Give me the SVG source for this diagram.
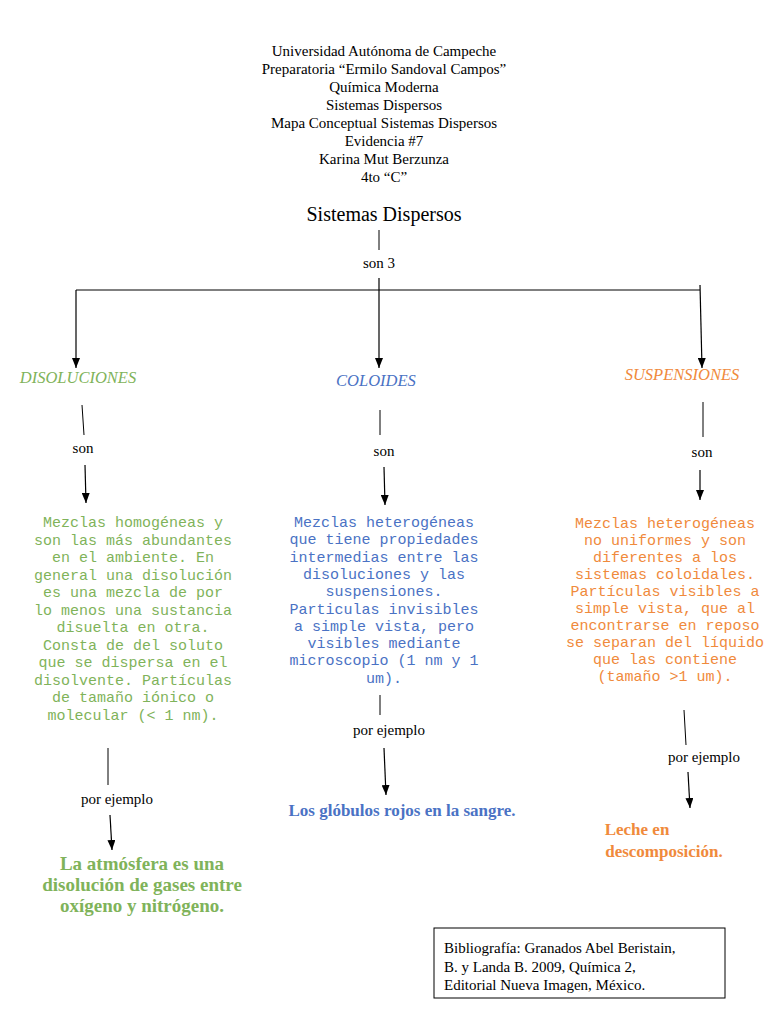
<svg xmlns="http://www.w3.org/2000/svg" width="768" height="1024" viewBox="0 0 768 1024">
<defs><marker id="a" markerWidth="10" markerHeight="8" refX="10" refY="4" orient="auto" markerUnits="userSpaceOnUse" viewBox="0 0 10 8"><path d="M0,0 L10,4 L0,8 Z" fill="#000"/></marker></defs>
<style>
.s{font-family:"Liberation Serif",serif;font-size:15px;fill:#000;text-anchor:middle}
.m{font-family:"Liberation Mono",monospace;font-size:15px;text-anchor:middle}
.l{stroke:#000;stroke-width:1;fill:none}
.ar{stroke:#000;stroke-width:1.2;fill:none}
.g{fill:#7fb35a}.b{fill:#4a72c4}.o{fill:#f08a3c}
.i{font-family:"Liberation Serif",serif;font-size:16.5px;font-style:italic;text-anchor:middle}
.bd{font-family:"Liberation Serif",serif;font-size:17px;font-weight:bold;text-anchor:middle}
</style>
<rect width="768" height="1024" fill="#fff"/>
<g id="header" class="s">
<text x="384" y="56">Universidad Autónoma de Campeche</text>
<text x="384" y="74">Preparatoria “Ermilo Sandoval Campos”</text>
<text x="384" y="92">Química Moderna</text>
<text x="384" y="110">Sistemas Dispersos</text>
<text x="384" y="128">Mapa Conceptual Sistemas Dispersos</text>
<text x="384" y="146">Evidencia #7</text>
<text x="384" y="164">Karina Mut Berzunza</text>
<text x="384" y="182">4to “C”</text>
</g>
<g id="connectors">
<path class="l" d="M379,230V250"/>
<path class="ar" d="M379,278V368" marker-end="url(#a)"/>
<path class="l" d="M76,290H700"/>
<path class="ar" d="M76,290V368" marker-end="url(#a)"/>
<path class="ar" d="M700,285L702,368" marker-end="url(#a)"/>
<path class="l" d="M82,405L84,435"/>
<path class="ar" d="M85,465L86,503" marker-end="url(#a)"/>
<path class="l" d="M380,410V435"/>
<path class="ar" d="M384,467L385,505" marker-end="url(#a)"/>
<path class="l" d="M703,402V437"/>
<path class="ar" d="M700,470V500" marker-end="url(#a)"/>
<path class="l" d="M108,748V785"/>
<path class="ar" d="M110,815L112,850" marker-end="url(#a)"/>
<path class="l" d="M380,695V715"/>
<path class="ar" d="M384,748L386,795" marker-end="url(#a)"/>
<path class="l" d="M684,710L686,745"/>
<path class="ar" d="M688,772L690,808" marker-end="url(#a)"/>
</g>
<g id="root"><text x="384" y="221" class="s" style="font-size:20px">Sistemas Dispersos</text></g>
<g id="labels" class="s">
<text x="379" y="268">son 3</text>
<text x="83" y="453">son</text>
<text x="384" y="456">son</text>
<text x="702" y="457">son</text>
<text x="117" y="804">por ejemplo</text>
<text x="389" y="735">por ejemplo</text>
<text x="704" y="762">por ejemplo</text>
</g>
<g id="disoluciones"><text x="78" y="383" class="i g">DISOLUCIONES</text></g>
<g id="coloides"><text x="376" y="386" class="i b">COLOIDES</text></g>
<g id="suspensiones"><text x="682" y="380" class="i o">SUSPENSIONES</text></g>
<g id="def-disoluciones" class="m g">
<text x="133" y="527">Mezclas homogéneas y</text>
<text x="133" y="544.5">son las más abundantes</text>
<text x="133" y="562">en el ambiente. En</text>
<text x="133" y="579.5">general una disolución</text>
<text x="133" y="597">es una mezcla de por</text>
<text x="133" y="614.5">lo menos una sustancia</text>
<text x="133" y="632">disuelta en otra.</text>
<text x="133" y="649.5">Consta de del soluto</text>
<text x="133" y="667">que se dispersa en el</text>
<text x="133" y="684.5">disolvente. Partículas</text>
<text x="133" y="702">de tamaño iónico o</text>
<text x="133" y="719.5">molecular (&lt; 1 nm).</text>
</g>
<g id="def-coloides" class="m b">
<text x="384" y="527">Mezclas heterogéneas</text>
<text x="384" y="544.3">que tiene propiedades</text>
<text x="384" y="561.6">intermedias entre las</text>
<text x="384" y="578.9">disoluciones y las</text>
<text x="384" y="596.2">suspensiones.</text>
<text x="384" y="613.5">Particulas invisibles</text>
<text x="384" y="630.8">a simple vista, pero</text>
<text x="384" y="648.1">visibles mediante</text>
<text x="384" y="665.4">microscopio (1 nm y 1</text>
<text x="384" y="682.7">um).</text>
</g>
<g id="def-suspensiones" class="m o">
<text x="665" y="528">Mezclas heterogéneas</text>
<text x="665" y="545">no uniformes y son</text>
<text x="665" y="562">diferentes a los</text>
<text x="665" y="579">sistemas coloidales.</text>
<text x="665" y="596">Partículas visibles a</text>
<text x="665" y="613">simple vista, que al</text>
<text x="665" y="630">encontrarse en reposo</text>
<text x="665" y="647">se separan del líquido</text>
<text x="665" y="664">que las contiene</text>
<text x="665" y="681">(tamaño &gt;1 um).</text>
</g>
<g id="ej-disoluciones" class="bd g" style="font-size:19px">
<text x="142" y="870">La atmósfera es una</text>
<text x="142" y="891">disolución de gases entre</text>
<text x="142" y="912">oxígeno y nitrógeno.</text>
</g>
<g id="ej-coloides"><text x="402" y="816" class="bd b">Los glóbulos rojos en la sangre.</text></g>
<g id="ej-suspensiones" class="bd o">
<text x="637" y="835">Leche en</text>
<text x="664" y="857">descomposición.</text>
</g>
<g id="bibliografia">
<rect x="434" y="928" width="291" height="70" fill="none" stroke="#000" stroke-width="1"/>
<text x="444" y="953" class="s" style="text-anchor:start">Bibliografía: Granados Abel Beristain,</text>
<text x="444" y="972" class="s" style="text-anchor:start">B. y Landa B. 2009, Química 2,</text>
<text x="444" y="990" class="s" style="text-anchor:start">Editorial Nueva Imagen, México.</text>
</g>
</svg>
